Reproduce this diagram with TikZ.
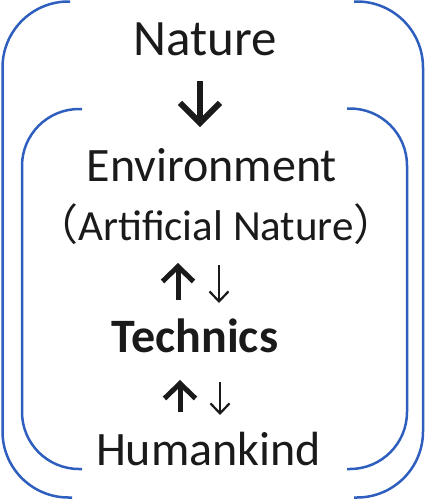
\documentclass[tikz,border=0pt]{standalone}
\usepackage{fontspec}
\setmainfont{Carlito}
\newfontfamily\cjkfont{Noto Sans CJK JP}
\usetikzlibrary{arrows.meta}
\definecolor{brk}{RGB}{46,94,190}
\definecolor{ink}{RGB}{26,26,26}
\begin{document}
\begin{tikzpicture}[x=1pt,y=-1pt,
  bracket/.style={draw=brk,line width=2.5pt},
  lbl/.style={anchor=base,inner sep=0pt,text=ink},
  bigarr/.style={draw=ink,line width=6pt,-{Straight Barb[length=20pt,width=40pt]}},
  boldarr/.style={draw=ink,line width=5pt,-{Straight Barb[length=15pt,width=31pt]}},
  thinarr/.style={draw=ink,line width=2.2pt,-{Straight Barb[length=10pt,width=19pt]}}]
\useasboundingbox (0,0) rectangle (425,499);
% brackets
\draw[bracket,rounded corners=66pt] (70,1.5) -- (2.5,1.5) -- (2.5,497.5) -- (72,497.5);
\draw[bracket,rounded corners=66pt] (354,1.5) -- (423,1.5) -- (423,497.5) -- (354,497.5);
\draw[bracket,rounded corners=57pt] (82,109) -- (22,109) -- (22,469) -- (82,469);
\draw[bracket,rounded corners=57pt] (347,108.5) -- (407,108.5) -- (407,469) -- (347,469);
% labels
\node[lbl,font=\fontsize{51}{60}\selectfont] (nature) at (205,55) {Nature};
\node[lbl,font=\fontsize{48}{58}\selectfont] (env) at (212,181) {Environment};
\node[lbl,font=\fontsize{43}{52}\selectfont] (art) at (216,240) {{\cjkfont （}Artificial Nature{\cjkfont ）}};
\node[lbl,font=\fontsize{48}{58}\selectfont\bfseries] (tech) at (195,352) {Technics};
\node[lbl,font=\fontsize{48}{58}\selectfont] (human) at (208.5,465) {Humankind};
% arrows
\coordinate (a0) at (200,81);  \coordinate (a1) at (200,127);
\coordinate (b0) at (178,300); \coordinate (b1) at (178,263);
\coordinate (c0) at (219,265); \coordinate (c1) at (219,303);
\coordinate (d0) at (180,412); \coordinate (d1) at (180,380);
\coordinate (e0) at (220,382); \coordinate (e1) at (220,415);
\draw[bigarr] (a0) -- (a1);
\draw[boldarr] (b0) -- (b1);
\draw[thinarr] (c0) -- (c1);
\draw[boldarr] (d0) -- (d1);
\draw[thinarr] (e0) -- (e1);
\end{tikzpicture}
\end{document}
